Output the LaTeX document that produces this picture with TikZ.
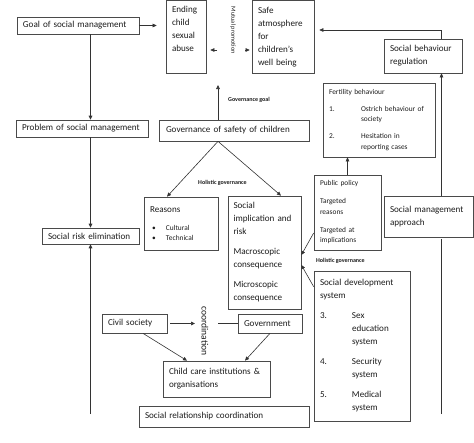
\documentclass[tikz,border=0pt]{standalone}
\usepackage{fontspec}
\setmainfont{Carlito}
\usetikzlibrary{arrows.meta, calc}
\definecolor{TextGray}{HTML}{1C1C1C}
\definecolor{BoxGray}{HTML}{4A4A4A}
\definecolor{LineGray}{HTML}{333333}
\hyphenpenalty=10000

\tikzset{
  box/.style={draw=BoxGray, line width=0.7pt, inner xsep=6pt, inner ysep=1pt,
    align=left, text=TextGray, font=\fontsize{9.1}{13}\selectfont},
  smallbox/.style={box, font=\fontsize{7.4}{10.5}\selectfont},
  link/.style={draw=LineGray, line width=0.6pt, -{Triangle[length=4pt, width=3.6pt]}},
  trunk/.style={link, line width=1.3pt},
  tag/.style={text=TextGray, inner sep=0pt, font=\bfseries\fontsize{6}{7}\selectfont},
}

\begin{document}
\begin{tikzpicture}[x=1pt, y=-1pt]
  \useasboundingbox (0,0) rectangle (474,442);
  % left column
  \node[box, text width=110pt, minimum height=17pt] (goal) at (78,25.5) {Goal of social management};
  \node[box, text width=120pt, minimum height=17pt] (problem) at (82,128.5) {Problem of social management};
  \node[box, text width=85pt, minimum height=16pt] (risk) at (90.5,236) {Social risk elimination};
  % goals at the top
  \node[box, text width=28pt, minimum height=72.5pt] (ending) at (186,36.75)
    {\parbox[t][62pt][t]{28pt}{Ending\\child\\sexual\\abuse}};
  \node[box, text width=50pt, minimum height=72.5pt] (safe) at (283,36.75)
    {Safe\\atmosphere\\for\\children’s\\well being};
  \node[box, text width=66pt, minimum height=34pt] (behav) at (423,56) {Social behaviour\\regulation};
  \node[smallbox, text width=100pt, minimum height=74pt] (fert) at (379,120)
    {Fertility behaviour\\[6.5pt]\makebox[32pt][l]{1.}Ostrich behaviour of\\\hspace*{32pt}society\\[6.5pt]%
     \makebox[32pt][l]{2.}Hesitation in\\\hspace*{32pt}reporting cases};
  % governance
  \node[box, text width=136pt, minimum height=21pt, inner xsep=7pt] (gov) at (234,130.5) {Governance of safety of children};
  \node[smallbox, text width=62pt, minimum height=53pt] (reasons) at (181,223.5)
    {{\fontsize{9.1}{13}\selectfont Reasons}\\[7.5pt]\hspace*{2pt}\makebox[14pt][l]{\textbullet}Cultural\\%
     \hspace*{2pt}\makebox[14pt][l]{\textbullet}Technical};
  \node[box, text width=62pt, minimum height=113pt, inner xsep=5.5pt] (impl) at (264.5,252.5)
    {Social\\implication and\\risk\\[7pt]Macroscopic\\consequence\\[7pt]Microscopic\\consequence};
  \node[smallbox, text width=55pt, minimum height=75pt] (policy) at (347.5,212.5)
    {Public policy\\[7.5pt]Targeted\\reasons\\[7.5pt]Targeted at\\implications};
  \node[box, text width=77.5pt, minimum height=41pt] (approach) at (428.75,216.5) {Social management\\approach};
  \node[box, text width=84pt, minimum height=150pt] (devel) at (362,346)
    {Social development\\system\\[7pt]\makebox[32pt][l]{3.}Sex\\\hspace*{32pt}education\\\hspace*{32pt}system\\[7pt]%
     \makebox[32pt][l]{4.}Security\\\hspace*{32pt}system\\[7pt]\makebox[32pt][l]{5.}Medical\\\hspace*{32pt}system};
  % coordination at the bottom
  \node[box, text width=53pt, minimum height=19pt] (civil) at (134.5,323.5) {Civil society};
  \node[box, text width=52pt, minimum height=19pt] (govt) at (270,323.5) {Government};
  \node[box, text width=95pt, minimum height=36pt] (care) at (216.5,379) {Child care institutions \&\\organisations};
  \node[box, text width=158pt, minimum height=21pt] (rel) at (224,416.5) {Social relationship coordination};
  % labels
  \node[text=TextGray, inner sep=0pt, rotate=-90, font=\fontsize{6.3}{7}\selectfont] (mutual) at (233,30.5) {Mutual promotion};
  \node[tag, anchor=west] (govgoal) at (228,100) {Governance goal};
  \node[tag] (holistic) at (222.5,183) {Holistic governance};
  \node[tag, anchor=west] (holistic2) at (316,261) {Holistic governance};
  \node[text=TextGray, inner sep=0pt, rotate=-90, font=\fontsize{9.6}{12}\selectfont] (coord) at (205,331) {coordination};

  % connectors
  \coordinate (goalpt) at (218,85);
  \coordinate (mp) at (233,50);
  \coordinate (topbend) at (441.5,30);
  \coordinate (leftend) at (90.5,414);
  \coordinate (rightend) at (441.5,414);

  \draw[link, shorten >=9pt] (goal.east) -- (goal.east -| ending.west);
  \draw[trunk] (goal.south -| risk) -- (problem.north -| risk);
  \draw[trunk] (problem.south -| risk) -- (risk.north);
  \draw[trunk] (leftend) -- (risk.south);
  \draw[link, shorten <=16pt, shorten >=4pt] (mp) -- (mp -| ending.east);
  \draw[link, shorten <=12pt, shorten >=2pt] (mp) -- (mp -| safe.west);
  \draw[link] (gov.north -| goalpt) -- (goalpt);
  \draw[link] (gov.south -| goalpt) -- ([xshift=-14pt]reasons.north);
  \draw[link] (gov.south -| goalpt) -- ([xshift=16.5pt]impl.north);
  \draw[link] (policy.north) -- (policy.north |- fert.south);
  \draw[link] ([yshift=-20.5pt]policy.west) -- ([yshift=-2.5pt]impl.east);
  \draw[link] ([yshift=-16pt]devel.north west) -- ([yshift=-12.5pt]impl.east);
  \draw[link] (approach.north -| topbend) -- (behav.south -| topbend);
  \draw[link, -, shorten >=2pt] (rightend) -- (approach.south -| topbend);
  \draw[link, shorten >=5pt] (behav.north -| topbend) -- (topbend) -- (topbend -| safe.east);
  \draw[link, shorten <=3pt, shorten >=10pt] (civil.east) -- (civil.east -| coord);
  \draw[link, -, shorten <=13pt] (govt.west -| coord) -- (govt.west);
  \draw[link] ([xshift=8.5pt]civil.south) -- ([xshift=-29.5pt]care.north);
  \draw[link] (govt.south) -- ([xshift=28.5pt]care.north);
\end{tikzpicture}
\end{document}
